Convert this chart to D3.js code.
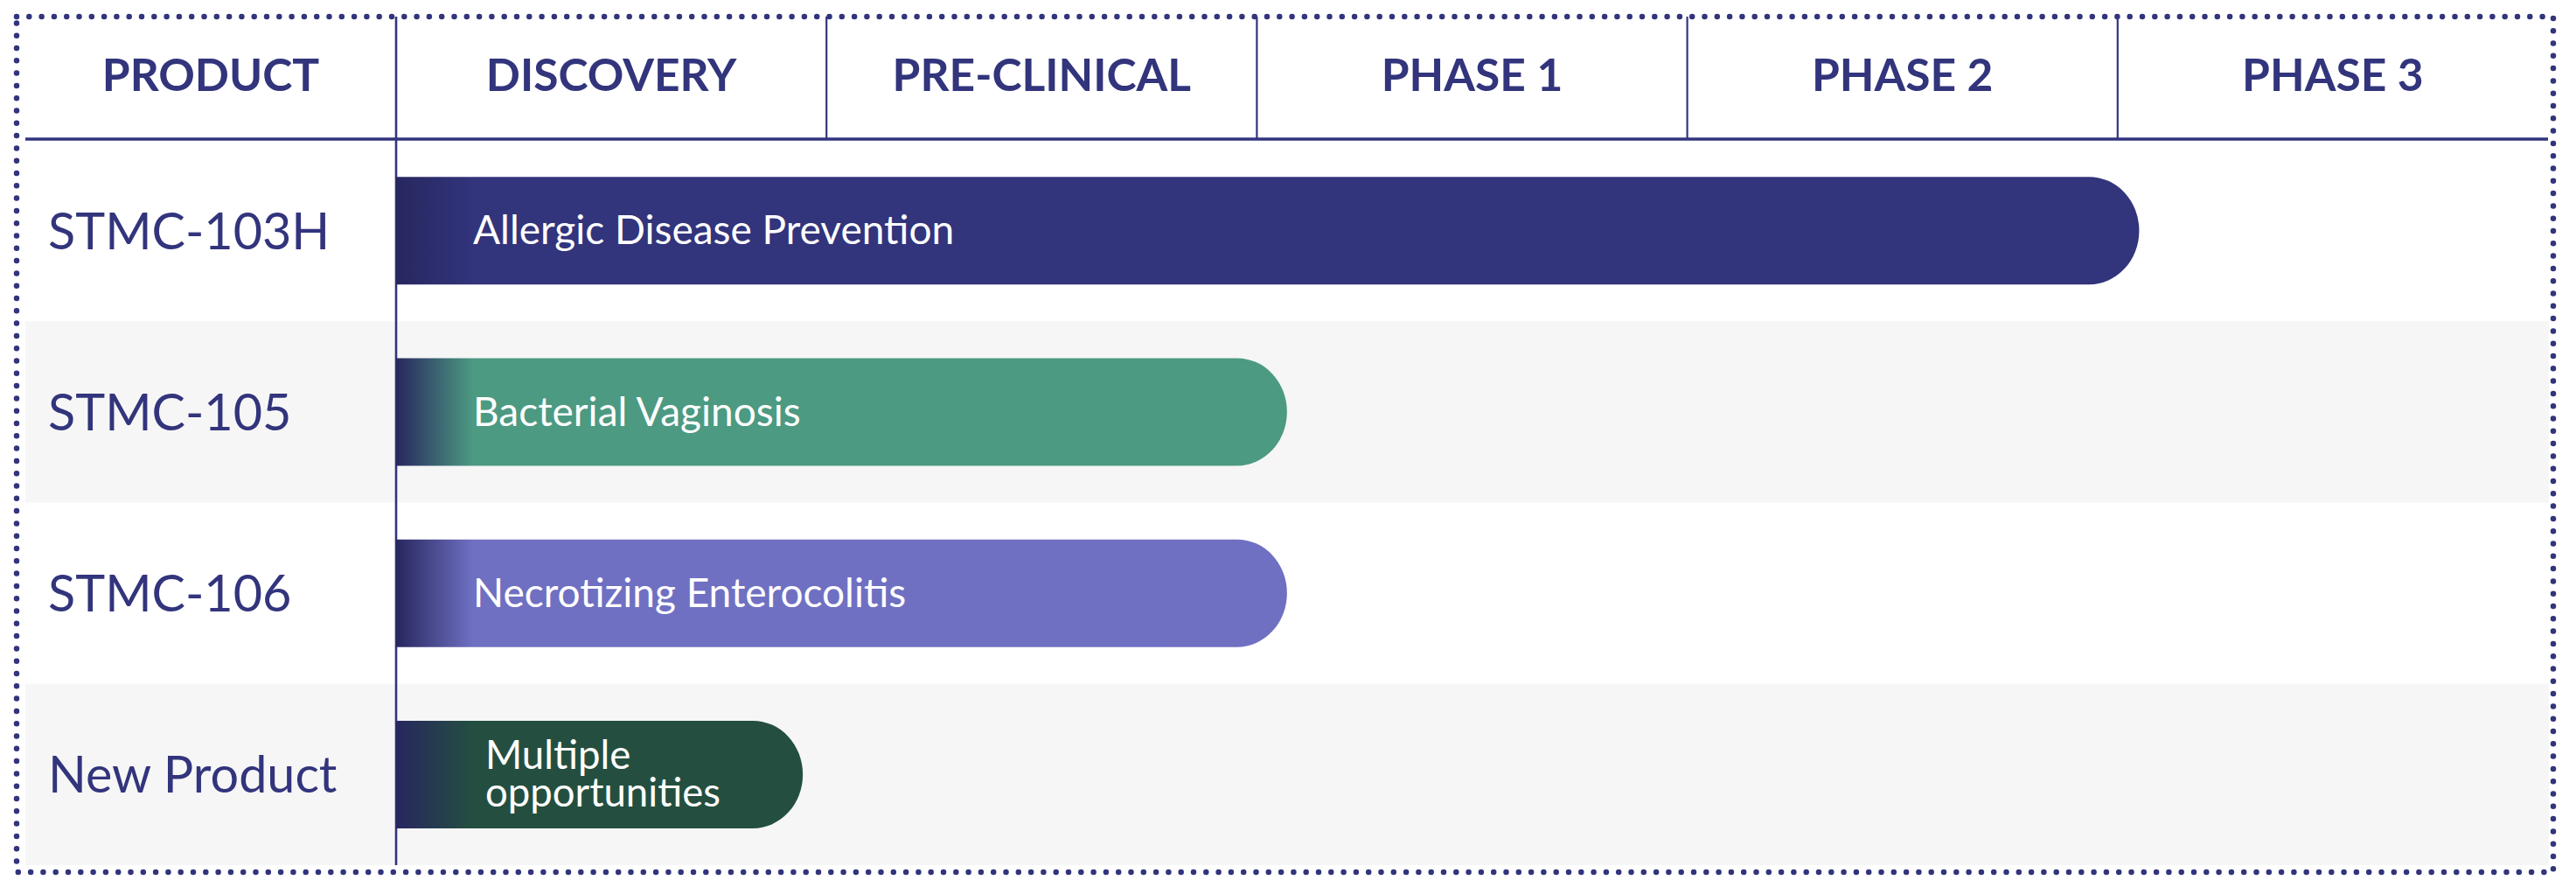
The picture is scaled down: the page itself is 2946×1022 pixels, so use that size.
<!DOCTYPE html>
<html>
<head>
<meta charset="utf-8">
<script src="https://cdn.jsdelivr.net/npm/d3@7"></script>
<style>
  html, body { margin: 0; padding: 0; background: #ffffff; }
  svg { display: block; }
</style>
</head>
<body>
<svg id="chart" width="2946" height="1022"></svg>
<script>
// ---- data ----
const stages = ["DISCOVERY", "PRE-CLINICAL", "PHASE 1", "PHASE 2", "PHASE 3"];
const products = ["STMC-103H", "STMC-105", "STMC-106", "New Product"];
const indications = [
  ["Allergic Disease Prevention"],
  ["Bacterial Vaginosis"],
  ["Necrotizing Enterocolitis"],
  ["Multiple", "opportunities"]
];
const progress = [4.05, 2.07, 2.07, 0.945]; // in stage units from start of DISCOVERY
const barColors = ["#32347c", "#4c9a82", "#6f70c2", "#244f40"];
const headerTitle = "PRODUCT";

// ---- layout ----
const W = 2946, H = 1022;
const ink = "#32347c";
const frame = { left: 19, top: 19, right: 2920, bottom: 997 };
const inner = { left: 29, right: 2915 };
const productRight = 453;
const headerBottom = 159;
const tableBottom = 989;

const svg = d3.select("#chart");
svg.append("rect").attr("width", W).attr("height", H).attr("fill", "#ffffff");

const x = d3.scaleLinear().domain([0, stages.length]).range([productRight, 2914]);
const y = d3.scaleBand().domain(products).range([160, tableBottom]).paddingInner(0).paddingOuter(0);
const stageBand = d3.scaleBand().domain(stages).range([productRight, 2914]);

// alternating row shading
svg.append("g").selectAll("rect").data(products.filter((d, i) => i % 2 === 1)).join("rect")
  .attr("x", inner.left).attr("width", inner.right - inner.left)
  .attr("y", d => y(d)).attr("height", y.bandwidth())
  .attr("fill", "#f6f6f6");

// header bottom rule
svg.append("line")
  .attr("x1", inner.left).attr("x2", 2914)
  .attr("y1", headerBottom).attr("y2", headerBottom)
  .attr("stroke", ink).attr("stroke-width", 3.5);

// header column dividers (stage boundaries)
svg.append("g").selectAll("line").data(d3.range(1, stages.length)).join("line")
  .attr("x1", d => x(d)).attr("x2", d => x(d))
  .attr("y1", frame.top).attr("y2", headerBottom)
  .attr("stroke", ink).attr("stroke-width", 2.2);

// product column divider (full height)
svg.append("line")
  .attr("x1", productRight).attr("x2", productRight)
  .attr("y1", frame.top).attr("y2", tableBottom)
  .attr("stroke", ink).attr("stroke-width", 2.6);

// header labels
const headerY = 104;
const headerFont = 51.5;
svg.append("text")
  .attr("x", (inner.left + productRight) / 2).attr("y", headerY)
  .attr("text-anchor", "middle")
  .attr("font-family", "Lato, 'Open Sans', sans-serif").attr("font-weight", 700)
  .attr("font-size", headerFont).attr("fill", ink)
  .text(headerTitle);

svg.append("g").selectAll("text").data(stages).join("text")
  .attr("x", d => stageBand(d) + stageBand.bandwidth() / 2).attr("y", headerY)
  .attr("text-anchor", "middle")
  .attr("font-family", "Lato, 'Open Sans', sans-serif").attr("font-weight", 700)
  .attr("font-size", headerFont).attr("fill", ink)
  .text(d => d);

// product labels
svg.append("g").selectAll("text").data(products).join("text")
  .attr("x", 55).attr("y", d => y(d) + y.bandwidth() / 2 + 21)
  .attr("font-family", "Lato, 'Open Sans', sans-serif").attr("font-weight", 400)
  .attr("font-size", 57.5).attr("fill", ink)
  .text(d => d);

// gradients for bar starts
const defs = svg.append("defs");
barColors.forEach((c, i) => {
  const g = defs.append("linearGradient")
    .attr("id", "grad" + i)
    .attr("gradientUnits", "userSpaceOnUse")
    .attr("x1", x(0)).attr("x2", x(0) + 88).attr("y1", 0).attr("y2", 0);
  g.append("stop").attr("offset", 0).attr("stop-color", "#27275f");
  g.append("stop").attr("offset", 1).attr("stop-color", c);
});

// bars
const barH = 123;
function barPath(v, p) {
  const cy = y(p) + y.bandwidth() / 2;
  const y0 = cy - barH / 2, y1 = cy + barH / 2;
  const x0 = x(0), x1 = x(v);
  const rx = 57, ry = barH / 2;
  return `M${x0},${y0} H${x1 - rx} A${rx},${ry} 0 0 1 ${x1 - rx},${y1} H${x0} Z`;
}
const bars = products.map((p, i) => ({ p, v: progress[i], c: barColors[i], lines: indications[i], i }));

svg.append("g").selectAll("path").data(bars).join("path")
  .attr("d", d => barPath(d.v, d.p))
  .attr("fill", d => `url(#grad${d.i})`);

// bar labels (multi-line labels drawn as separate text lines)
const barFont = 46, multiFont = 45.5, lineH = 43;
const labelData = [];
bars.forEach(d => {
  const cy = y(d.p) + y.bandwidth() / 2;
  const n = d.lines.length;
  const fs = n > 1 ? multiFont : barFont;
  const cap = fs * 0.68;
  const firstBase = cy - ((n - 1) * lineH + cap) / 2 + cap;
  d.lines.forEach((ln, k) => {
    labelData.push({
      text: ln, fs,
      x: n > 1 ? x(0) + 102 : x(0) + 88,
      y: firstBase + k * lineH
    });
  });
});
svg.append("g").selectAll("text").data(labelData).join("text")
  .attr("x", d => d.x).attr("y", d => d.y)
  .attr("font-family", "Lato, 'Open Sans', sans-serif").attr("font-weight", 400)
  .attr("font-size", d => d.fs).attr("fill", "#ffffff")
  .text(d => d.text);

// dotted frame
svg.append("rect")
  .attr("x", frame.left).attr("y", frame.top)
  .attr("width", frame.right - frame.left).attr("height", frame.bottom - frame.top)
  .attr("fill", "none").attr("stroke", ink)
  .attr("stroke-width", 6.5).attr("stroke-linecap", "round")
  .attr("stroke-dasharray", "0 14.3");
</script>
</body>
</html>
